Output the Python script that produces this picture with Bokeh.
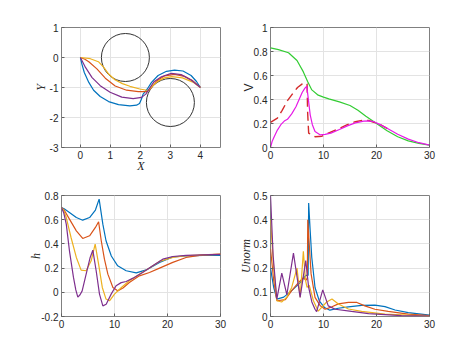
from bokeh.plotting import figure
from bokeh.layouts import column, row
from bokeh.models import FixedTicker, Range1d, CustomJSTickFormatter
from bokeh.embed import file_html
from bokeh.resources import INLINE

# ---------------- data ----------------
C_BLUE, C_ORANGE, C_YELLOW, C_PURPLE = "#0072BD", "#D95319", "#EDB120", "#7E2F8E"

# obstacles (top-left)
circle_x = [1.5, 3.0]
circle_y = [0.0, -1.5]
circle_r = [0.8, 0.8]

# trajectories
traj_blue_x = [0, 0.05, 0.13, 0.28, 0.44, 0.66, 0.94, 1.27, 1.65, 1.87, 1.97, 2.03, 2.09, 2.23, 2.37, 2.59, 2.87, 3.14, 3.42, 3.69, 3.87, 4.0]
traj_blue_y = [0, -0.22, -0.5, -0.83, -1.09, -1.3, -1.47, -1.57, -1.61, -1.59, -1.53, -1.4, -1.22, -1.05, -0.83, -0.6, -0.46, -0.42, -0.45, -0.6, -0.8, -1.0]
traj_orange_x = [0, 0.15, 0.28, 0.55, 0.83, 1.16, 1.54, 1.93, 2.23, 2.37, 2.54, 2.81, 3.14, 3.47, 3.75, 4.0]
traj_orange_y = [0, -0.06, -0.14, -0.38, -0.69, -0.95, -1.09, -1.14, -1.14, -1.0, -0.78, -0.61, -0.56, -0.63, -0.78, -1.0]
traj_yellow_x = [0, 0.33, 0.6, 0.78, 0.95, 1.15, 1.4, 1.65, 1.98, 2.26, 2.35, 2.45, 2.6, 2.8, 3.05, 3.4, 3.75, 4.0]
traj_yellow_y = [0, -0.04, -0.14, -0.33, -0.56, -0.74, -0.87, -0.96, -1.05, -1.1, -1.0, -0.9, -0.78, -0.68, -0.64, -0.68, -0.82, -1.0]
traj_purple_x = [0, 0.17, 0.39, 0.66, 0.99, 1.38, 1.76, 2.04, 2.18, 2.29, 2.45, 2.7, 3.03, 3.36, 3.69, 4.0]
traj_purple_y = [0, -0.33, -0.67, -0.94, -1.16, -1.32, -1.37, -1.33, -1.22, -1.05, -0.81, -0.64, -0.53, -0.57, -0.75, -1.0]

# speed V (top-right)
v_green_t = [0, 1.5, 3.4, 5.0, 6.2, 7.0, 7.8, 9.0, 10, 11, 13, 15, 16.5, 18, 20, 22, 24, 26, 28, 30]
v_green = [0.83, 0.816, 0.79, 0.725, 0.63, 0.55, 0.48, 0.436, 0.42, 0.405, 0.38, 0.35, 0.31, 0.26, 0.20, 0.14, 0.09, 0.055, 0.035, 0.02]
v_ref_t = [0, 1.3, 2.2, 3.2, 4.2, 5.1, 6.0, 6.6, 6.9, 7.0, 7.2, 8.4, 9.7, 10.9, 13.0, 14.5, 16, 17.6, 18.5, 19.5, 20.5, 22]
v_ref = [0.21, 0.245, 0.31, 0.39, 0.45, 0.50, 0.53, 0.54, 0.53, 0.3, 0.12, 0.09, 0.094, 0.12, 0.16, 0.19, 0.215, 0.229, 0.225, 0.21, 0.195, 0.16]
v_mag_t = [0, 0.3, 0.7, 1.3, 1.95, 2.6, 3.2, 4.0, 4.8, 5.5, 6.0, 6.5, 6.85, 7.2, 7.5, 7.9, 8.4, 9.4, 10.3, 11.4, 13.0, 14.5, 16.0, 17.6, 18.5, 19.5, 20.5, 22, 24, 26, 28, 30]
v_mag = [0.0, 0.05, 0.09, 0.145, 0.19, 0.22, 0.235, 0.28, 0.34, 0.41, 0.46, 0.495, 0.51, 0.38, 0.27, 0.19, 0.133, 0.105, 0.11, 0.12, 0.15, 0.18, 0.205, 0.22, 0.222, 0.215, 0.195, 0.16, 0.11, 0.07, 0.04, 0.02]

# heading h (bottom-left)
h_blue_t = [0, 0.5, 1.5, 2.8, 4.0, 5.3, 6.4, 7.1, 7.8, 8.4, 9.4, 10.6, 12.2, 14.1, 16.0, 18.5, 21.0, 23.5, 26.7, 30]
h_blue = [0.70, 0.69, 0.66, 0.618, 0.596, 0.618, 0.68, 0.77, 0.563, 0.426, 0.30, 0.219, 0.178, 0.161, 0.185, 0.247, 0.293, 0.30, 0.305, 0.305]
h_orange_t = [0, 0.5, 1.5, 2.8, 4.0, 5.3, 6.4, 7.0, 7.5, 8.1, 8.75, 9.7, 10.6, 11.6, 12.8, 14.7, 16.6, 18.5, 21, 23.5, 26.7, 30]
h_orange = [0.70, 0.68, 0.605, 0.508, 0.445, 0.467, 0.536, 0.583, 0.426, 0.274, 0.15, 0.04, 0.012, 0.035, 0.081, 0.136, 0.164, 0.2, 0.247, 0.288, 0.31, 0.315]
h_yellow_t = [0, 0.4, 0.9, 1.8, 2.8, 3.7, 4.65, 5.6, 6.35, 7.0, 7.7, 8.4, 9.06, 10.0, 11.3, 12.8, 14.7, 16.6, 18.5, 21, 23.5, 26.7, 30]
h_yellow = [0.70, 0.68, 0.618, 0.453, 0.288, 0.183, 0.178, 0.26, 0.398, 0.233, 0.04, -0.056, -0.07, -0.015, 0.04, 0.095, 0.15, 0.2, 0.255, 0.288, 0.302, 0.309, 0.314]
h_purple_t = [0, 0.4, 0.9, 1.5, 2.26, 2.7, 3.08, 3.5, 3.9, 4.65, 5.41, 5.91, 6.54, 7.17, 7.8, 8.43, 9.37, 10.3, 11.26, 12.2, 13.5, 15.3, 17.2, 19.1, 21, 23.5, 26.7, 30]
h_purple = [0.70, 0.66, 0.563, 0.343, 0.123, 0.02, -0.04, -0.02, 0.012, 0.15, 0.288, 0.348, 0.178, -0.015, -0.112, -0.099, -0.015, 0.054, 0.08, 0.089, 0.117, 0.164, 0.219, 0.274, 0.296, 0.305, 0.31, 0.314]

# control norm (bottom-right)
u_blue_t = [0, 0.6, 1.2, 2.5, 4.0, 5.6, 6.65, 7.1, 7.2, 7.5, 7.78, 8.4, 9.2, 10.2, 11.2, 12.8, 14.7, 17.2, 19.7, 21.6, 23.5, 26, 30]
u_blue = [0.20, 0.12, 0.072, 0.08, 0.107, 0.14, 0.17, 0.17, 0.469, 0.35, 0.246, 0.12, 0.065, 0.037, 0.026, 0.034, 0.04, 0.046, 0.047, 0.041, 0.027, 0.016, 0.006]
u_orange_t = [0, 0.6, 1.2, 2.8, 4.0, 5.27, 6.2, 6.7, 6.95, 7.03, 7.66, 8.4, 9.4, 10.3, 11.6, 12.8, 14.7, 16.3, 17.8, 19.7, 22.2, 26, 30]
u_orange = [0.28, 0.15, 0.065, 0.07, 0.107, 0.14, 0.16, 0.15, 0.16, 0.40, 0.176, 0.079, 0.044, 0.03, 0.04, 0.052, 0.058, 0.058, 0.044, 0.03, 0.021, 0.01, 0.004]
u_yellow_t = [0, 0.6, 1.2, 2.1, 3.1, 4.0, 5.0, 5.6, 6.2, 6.6, 6.9, 7.3, 8.1, 9.0, 10.6, 11.6, 12.8, 14.7, 17.2, 21.6, 30]
u_yellow = [0.40, 0.2, 0.065, 0.06, 0.08, 0.12, 0.2, 0.08, 0.269, 0.15, 0.12, 0.13, 0.065, 0.022, 0.06, 0.072, 0.052, 0.031, 0.021, 0.01, 0.002]
u_purple_t = [0, 0.5, 1.19, 2.13, 3.08, 4.33, 5.59, 6.65, 7.2, 7.8, 8.4, 8.7, 9.86, 10.9, 12.2, 15.3, 18.5, 24.7, 30]
u_purple = [0.5, 0.25, 0.072, 0.179, 0.09, 0.262, 0.079, 0.231, 0.12, 0.06, 0.03, 0.02, 0.11, 0.044, 0.03, 0.021, 0.012, 0.004, 0.002]

# ticks
xy_xticks = [0, 1, 2, 3, 4]
xy_yticks = [-3, -2, -1, 0, 1]
t_ticks = [0, 10, 20, 30]
v_ticks = [0, 0.2, 0.4, 0.6, 0.8, 1]
h_ticks = [-0.2, 0, 0.2, 0.4, 0.6, 0.8]
u_ticks = [0, 0.1, 0.2, 0.3, 0.4, 0.5]

# ---------------- styling ----------------
TXT = "#262626"
fmt = CustomJSTickFormatter(code="return String(Math.round(tick*100)/100)")


def make_fig(xr, yr, xticks, yticks, bl, br, bt, bb, fw, fh):
    p = figure(output_backend="svg", toolbar_location=None,
               frame_width=fw, frame_height=fh,
               x_range=Range1d(*xr), y_range=Range1d(*yr),
               min_border_left=bl, min_border_right=br,
               min_border_top=bt, min_border_bottom=bb,
               background_fill_color="white", border_fill_color="white")
    p.outline_line_color = "#808080"
    p.outline_line_width = 1
    p.xaxis.ticker = FixedTicker(ticks=xticks)
    p.yaxis.ticker = FixedTicker(ticks=yticks)
    for ax in (p.xaxis, p.yaxis):
        ax.formatter = fmt
        ax.axis_line_color = None
        ax.major_tick_in = 3
        ax.major_tick_out = 0
        ax.major_tick_line_color = "#606060"
        ax.minor_tick_line_color = None
        ax.major_label_text_font = "Liberation Sans"
        ax.major_label_text_font_size = "10px"
        ax.major_label_text_color = TXT
        ax.major_label_standoff = 3
        ax.axis_label_text_font = "Liberation Serif"
        ax.axis_label_text_font_style = "italic"
        ax.axis_label_text_font_size = "12px"
        ax.axis_label_text_color = TXT
        ax.axis_label_standoff = 2
    p.grid.grid_line_color = "#e3e3e3"
    p.grid.grid_line_width = 1
    return p


LW = 1.2

# top-left: trajectories
p1 = make_fig((-0.63, 4.67), (-3, 1), xy_xticks, xy_yticks, 61, 10, 27, 30, 159, 120)
p1.xaxis.axis_label = "X"
p1.xaxis.axis_label_standoff = -3
p1.yaxis.axis_label = "Y"
p1.yaxis.axis_label_standoff = -1
p1.circle(x=circle_x, y=circle_y, radius=circle_r, fill_color=None,
          line_color="#333333", line_width=1)
p1.line(traj_blue_x, traj_blue_y, line_color=C_BLUE, line_width=LW)
p1.line(traj_orange_x, traj_orange_y, line_color=C_ORANGE, line_width=LW)
p1.line(traj_yellow_x, traj_yellow_y, line_color=C_YELLOW, line_width=LW)
p1.line(traj_purple_x, traj_purple_y, line_color=C_PURPLE, line_width=LW)

# top-right: V
p2 = make_fig((0, 30), (0, 1), t_ticks, v_ticks, 40, 45, 27, 30, 159, 120)
p2.yaxis.axis_label = "V"
p2.yaxis.axis_label_text_font = "Liberation Sans"
p2.yaxis.axis_label_text_font_style = "normal"
p2.yaxis.axis_label_standoff = -5
p2.line(v_green_t, v_green, line_color="#33CC33", line_width=LW)
p2.line(v_ref_t, v_ref, line_color="#D42A2A", line_width=1.4, line_dash="9 5")
p2.line(v_mag_t, v_mag, line_color="#E619E6", line_width=LW)

# bottom-left: h
p3 = make_fig((0, 30), (-0.2, 0.8), t_ticks, h_ticks, 61, 10, 18, 39, 159, 121)
p3.yaxis.axis_label = "h"
p3.yaxis.axis_label_standoff = -5
p3.line(h_blue_t, h_blue, line_color=C_BLUE, line_width=LW)
p3.line(h_orange_t, h_orange, line_color=C_ORANGE, line_width=LW)
p3.line(h_yellow_t, h_yellow, line_color=C_YELLOW, line_width=LW)
p3.line(h_purple_t, h_purple, line_color=C_PURPLE, line_width=LW)

# bottom-right: Unorm
p4 = make_fig((0, 30), (0, 0.5), t_ticks, u_ticks, 40, 45, 18, 39, 159, 121)
p4.yaxis.axis_label = "Unorm"
p4.yaxis.axis_label_standoff = -2
p4.line(u_blue_t, u_blue, line_color=C_BLUE, line_width=LW)
p4.line(u_orange_t, u_orange, line_color=C_ORANGE, line_width=LW)
p4.line(u_yellow_t, u_yellow, line_color=C_YELLOW, line_width=LW)
p4.line(u_purple_t, u_purple, line_color=C_PURPLE, line_width=LW)

layout = column(row(p1, p2), row(p3, p4))
open("out.html", "w").write(file_html(layout, INLINE))
